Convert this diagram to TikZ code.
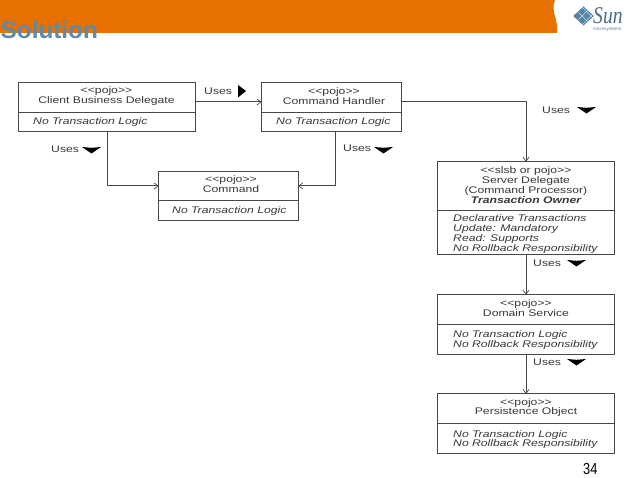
\documentclass[tikz,border=0pt]{standalone}
\usepackage{fontspec}
\usetikzlibrary{arrows.meta,calc}
\setmainfont{Liberation Sans}
\newfontfamily\wide[FakeStretch=1.27]{Liberation Sans}
\newfontfamily\narrow[FakeStretch=0.8]{Liberation Sans}
\newfontfamily\sunfont[FakeStretch=0.82]{Liberation Serif}
\definecolor{hdr}{HTML}{E87000}
\definecolor{ttl}{HTML}{5F8AA8}
\definecolor{ink}{HTML}{383838}
\definecolor{lineink}{HTML}{484848}
\definecolor{logo}{HTML}{5582A5}
\tikzset{
  umlbox/.style={draw=lineink,line width=1pt,fill=white,inner sep=0pt,outer sep=0pt,anchor=north west},
  divider/.style={draw=lineink,line width=0.8pt},
  headtext/.style={inner sep=0pt,align=center,text=ink,font=\wide\fontsize{9.6}{9.9}\selectfont},
  bodytext/.style={inner sep=0pt,align=left,anchor=west,text=ink,font=\wide\itshape\fontsize{9.6}{9.9}\selectfont},
  usestext/.style={inner sep=0pt,text=ink,font=\wide\fontsize{9.6}{10}\selectfont},
  conn/.style={draw=lineink,line width=1pt,-{Straight Barb[length=4pt,width=6pt,line width=0.7pt]}},
  marker/.style={fill=black,draw=none}
}
\newcommand{\umlbox}[6]{%
  \node[umlbox,minimum width=#4pt,minimum height=#5pt] (#1) at (#2,#3) {};
  \draw[divider] ($(#1.north west)+(0,#6)$) -- ($(#1.north east)+(0,#6)$);
}
\newcommand{\downmark}[2]{%
  \fill[marker] (#1,#2) -- (#1+9.5,#2+0.8) -- (#1+19,#2) -- (#1+9.5,#2+6.5) -- cycle;
}
\begin{document}
\begin{tikzpicture}[x=1pt,y=-1pt]
\useasboundingbox (0,0) rectangle (638,478);
\fill[white] (0,0) rectangle (638,478);
% header
\fill[hdr] (0,0) -- (555,0) .. controls (552.5,6) and (553.5,12) .. (555.5,18) .. controls (557,24) and (557.5,29) .. (557,33) -- (0,33) -- cycle;
\node[inner sep=0pt,anchor=base west,text=ttl,font=\bfseries\fontsize{24.3}{26}\selectfont] (title) at (0.5,39) {Solution};
% logo
\fill[logo] (583.5,6.5) -- (594,16) -- (583.5,25.5) -- (573,16) -- cycle;
\begin{scope}
\clip (583.5,6.5) -- (594,16) -- (583.5,25.5) -- (573,16) -- cycle;
\foreach \d in {-9,-4.5,0,4.5,9}{
  \draw[white!70!logo,line width=0.5pt] (573+\d,16-\d) -- ++(12,12);
  \draw[white!70!logo,line width=0.5pt] (573+\d,16+\d) -- ++(12,-12);
}
\end{scope}
\node[inner sep=0pt,anchor=base west,text=logo!85!black,font=\sunfont\itshape\fontsize{24}{25}\selectfont] (sun) at (593,24) {Sun};
\node[inner sep=0pt,anchor=base west,text=logo,font=\fontsize{4.6}{5}\selectfont] (micro) at (593,31) {microsystems};
% boxes
\umlbox{client}{18.5}{82.5}{177}{49}{29.5}
\umlbox{handler}{261.5}{82.5}{139.5}{49}{29.5}
\umlbox{command}{158.7}{171.5}{139.5}{49.5}{29}
\umlbox{server}{437.5}{161.7}{177}{93.3}{48.6}
\umlbox{domain}{437.5}{294.8}{177}{59.4}{29.5}
\umlbox{persist}{437.5}{394}{177}{59.4}{29.5}
% heads
\node[headtext] (clientH) at (106.5,96) {<<pojo>>\\Client Business Delegate};
\node[headtext] (handlerH) at (334,96) {<<pojo>>\\Command Handler};
\node[headtext] (commandH) at (231,184.5) {<<pojo>>\\Command};
\node[headtext] (serverH) at (526,185) {<<slsb or pojo>>\\Server Delegate\\(Command Processor)\\{\bfseries\itshape Transaction Owner}};
\node[headtext] (domainH) at (526,308.5) {<<pojo>>\\Domain Service};
\node[headtext] (persistH) at (526,407.5) {<<pojo>>\\Persistence Object};
% bodies
\node[bodytext] (clientB) at (33,122.5) {No Transaction Logic};
\node[bodytext] (handlerB) at (276,122.5) {No Transaction Logic};
\node[bodytext] (commandB) at (172,211.5) {No Transaction Logic};
\node[bodytext] (serverB) at (453,234) {Declarative Transactions\\Update: Mandatory\\Read: Supports\\No Rollback Responsibility};
\node[bodytext] (domainB) at (453,340) {No Transaction Logic\\No Rollback Responsibility};
\node[bodytext] (persistB) at (453,439.5) {No Transaction Logic\\No Rollback Responsibility};
% connectors
\draw[conn] (client.east |- 0,102) -- (handler.west |- 0,102);
\draw[conn] (client.south -| 107,0) |- (command.west |- 0,186);
\draw[conn] (handler.south -| 335,0) |- (command.east |- 0,186);
\draw[conn] (handler.east |- 0,102) -| (server.north -| 526,0);
\draw[conn] (server.south -| 526,0) -- (domain.north -| 526,0);
\draw[conn] (domain.south -| 526,0) -- (persist.north -| 526,0);
% uses labels
\node[usestext,anchor=west] (u1) at (204,91) {Uses};
\node[usestext,anchor=west] (u2) at (51,149.5) {Uses};
\node[usestext,anchor=west] (u3) at (343,148.5) {Uses};
\node[usestext,anchor=west] (u4) at (542,110) {Uses};
\node[usestext,anchor=west] (u5) at (533,263.5) {Uses};
\node[usestext,anchor=west] (u6) at (533,362) {Uses};
% markers
\fill[marker] (238,85) -- (246,91) -- (238,97.5) -- cycle;
\downmark{82}{147}
\downmark{374}{147}
\downmark{577}{107}
\downmark{567}{260}
\downmark{567}{359}
% page number
\node[inner sep=0pt,anchor=base west,text=black,font=\narrow\fontsize{16}{18}\selectfont] (page) at (583,475) {34};
\end{tikzpicture}
\end{document}
